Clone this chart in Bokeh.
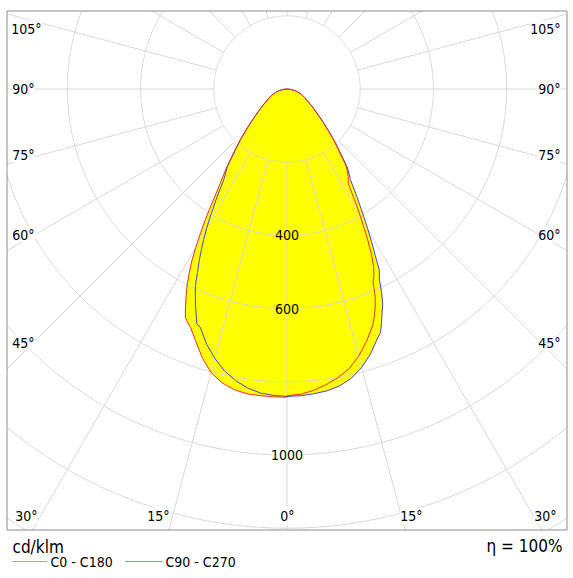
import numpy as np
from bokeh.plotting import figure
from bokeh.models import Label
from bokeh.embed import file_html
from bokeh.resources import INLINE

# luminous intensity distribution, cd/klm, per gamma angle (degrees)
gamma = [0, 2.5, 5, 7.5, 10, 12.5, 15, 17.5, 20, 21, 22, 23, 24, 25, 26, 27, 28, 29,
         30, 31, 32, 33, 35, 37.5, 40, 42.5, 45, 47.5, 50, 55, 60, 65, 70, 75, 80, 85, 90]
c0 = [838, 835, 827, 815, 801, 783, 756, 723, 686, 666, 643, 617, 578, 562, 540, 509,
      473, 435, 400, 367, 333, 307, 292, 266, 221, 188, 156, 132, 111, 84, 64, 51, 40,
      29, 19, 9, 0]
c180 = [842, 842, 841, 840, 834, 822, 802, 770, 731, 717, 703, 694, 683, 656, 629, 601,
        569, 536, 497, 458, 421, 385, 322, 273, 226, 191, 159, 134, 112, 84, 64, 51, 40,
        29, 19, 9, 0]
c90 = [840, 839, 836, 832, 824, 810, 788, 759, 724, 713, 689, 665, 643, 611, 575, 556,
       512, 476, 440, 408, 377, 350, 302, 272, 226, 192, 160, 135, 114, 86, 65, 52, 41,
       30, 19, 9, 0]
c270 = [840, 838, 834, 824, 809, 789, 762, 731, 693, 687, 663, 640, 616, 592, 558, 529,
        499, 469, 439, 408, 377, 350, 300, 268, 222, 188, 156, 132, 111, 84, 64, 51, 40,
        29, 19, 9, 0]

ring_values = [200, 400, 600, 800, 1000, 1200, 1400]
ring_labels = ["400", "600", "1000"]
spoke_step = 15
series_names = ["C0 - C180", "C90 - C270"]
eta_text = "η = 100%"
unit_text = "cd/klm"

RED = "#e8302a"
BLUE = "#4646c8"
YELLOW = "#ffff00"
GRID = "#d9d9d9"
FONT = "DejaVu Sans Condensed"

# page geometry
K = 0.366                 # px per cd/klm
CX, CY = 286.5, 88.5      # pole on the page
W, H = 572, 576


def dx(X):
    return (X - CX) / K


def dy(Y):
    return -(Y - CY) / K


p = figure(width=W, height=H, x_range=(dx(0), dx(W)), y_range=(dy(H), dy(0)),
           min_border=0, toolbar_location=None, output_backend="svg",
           x_axis_location=None, y_axis_location=None, tools="")
p.outline_line_color = None
p.xgrid.visible = False
p.ygrid.visible = False
p.background_fill_color = "white"


def curve(right, left):
    g = np.radians(np.array(gamma, dtype=float))
    r = np.array(right, dtype=float)
    l = np.array(left, dtype=float)
    xs = np.concatenate([(-l * np.sin(g))[::-1], r * np.sin(g)])
    ys = np.concatenate([(-l * np.cos(g))[::-1], -r * np.cos(g)])
    return xs, ys


x1, y1 = curve(c0, c180)
x2, y2 = curve(c90, c270)

# yellow fill first
p.patch(x1, y1, fill_color=YELLOW, line_color=None)
p.patch(x2, y2, fill_color=YELLOW, line_color=None)

# polar grid
t = np.linspace(0, 2 * np.pi, 721)
for rv in ring_values:
    p.line(rv * np.cos(t), rv * np.sin(t), line_color=GRID, line_width=1)
ang = np.radians(np.arange(0, 360, spoke_step))
r0, r1 = ring_values[0], 3000
p.segment(x0=r0 * np.sin(ang), y0=-r0 * np.cos(ang), x1=r1 * np.sin(ang), y1=-r1 * np.cos(ang),
          line_color=GRID, line_width=1)

# the two C-plane curves
p.line(x2, y2, line_color=BLUE, line_width=1)
p.line(x1, y1, line_color=RED, line_width=1)

# ring value labels
for txt in ring_labels:
    v = float(txt)
    bg = YELLOW if v < 800 else "white"
    p.add_layout(Label(x=0, y=-v, text=txt, text_align="center", text_baseline="middle",
                       text_font=FONT, text_font_size="14px", text_color="black",
                       background_fill_color=bg))

# mask outside frame, then frame
p.quad(left=dx(-10), right=dx(600), top=dy(529.5), bottom=dy(600), fill_color="white", line_color=None)
p.quad(left=dx(-10), right=dx(600), top=dy(-10), bottom=dy(10.5), fill_color="white", line_color=None)
p.quad(left=dx(-10), right=dx(6.5), top=dy(-10), bottom=dy(600), fill_color="white", line_color=None)
p.quad(left=dx(566.5), right=dx(600), top=dy(-10), bottom=dy(600), fill_color="white", line_color=None)
p.quad(left=dx(6.5), right=dx(566.5), top=dy(10.5), bottom=dy(529.5),
       fill_color=None, line_color="#8c8c8c", line_width=1)

# angle labels
angle_pos = [("105°", 26, 28), ("90°", 23, 88), ("75°", 23, 154), ("60°", 23, 234),
             ("45°", 23, 342), ("30°", 26, 515), ("15°", 158, 515), ("0°", 287, 515),
             ("15°", 411, 515), ("30°", 545, 515), ("45°", 549, 342), ("60°", 549, 234),
             ("75°", 549, 154), ("90°", 549, 88), ("105°", 545, 28)]
for txt, X, Y in angle_pos:
    p.add_layout(Label(x=dx(X), y=dy(Y), text=txt, text_align="center", text_baseline="middle",
                       text_font=FONT, text_font_size="14px", text_color="black",
                       background_fill_color="white"))

# footer
p.add_layout(Label(x=dx(12), y=dy(546), text=unit_text, text_align="left", text_baseline="middle",
                   text_font=FONT, text_font_size="17px", text_color="black"))
p.add_layout(Label(x=dx(562), y=dy(545), text=eta_text, text_align="right", text_baseline="middle",
                   text_font=FONT, text_font_size="17px", text_color="black"))
p.segment(x0=[dx(12), dx(125)], y0=[dy(561), dy(561)], x1=[dx(47), dx(162)], y1=[dy(561), dy(561)],
          line_color=["#f08a8a", "#8a8ae6"], line_width=1)
p.add_layout(Label(x=dx(50), y=dy(561), text=series_names[0], text_align="left", text_baseline="middle",
                   text_font=FONT, text_font_size="14px", text_color="black"))
p.add_layout(Label(x=dx(165), y=dy(561), text=series_names[1], text_align="left", text_baseline="middle",
                   text_font=FONT, text_font_size="14px", text_color="black"))

open("out.html", "w").write(file_html(p, INLINE))
